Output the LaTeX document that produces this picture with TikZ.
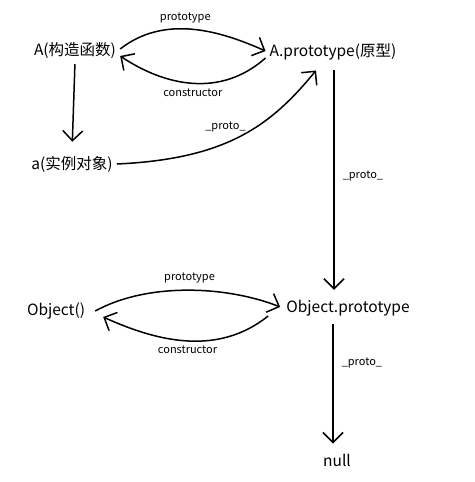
\documentclass[tikz,border=0pt]{standalone}
\usepackage{fontspec}
\setmainfont{Noto Sans CJK SC}
\usetikzlibrary{arrows.meta, positioning}
\tikzset{
  item/.style={inner sep=4pt, font=\fontsize{15.5}{17}\selectfont},
  tag/.style={inner sep=2pt, font=\fontsize{11}{12}\selectfont},
  arrow/.style={-{Straight Barb[length=10pt, width=20pt, line width=1.5pt]}, line width=1.5pt}
}
\begin{document}
\begin{tikzpicture}[x=1pt, y=-1pt]
  \useasboundingbox (0,0) rectangle (474,482);

  % Constructor and its prototype
  \node[item] (A) at (75,50) {A(构造函数)};
  \node[item] (Aproto) at (333,52) {A.prototype(原型)};
  \node[item] (a) at (72,164) {a(实例对象)};

  % Object level
  \node[item] (Obj) at (56,311) {Object()};
  \node[item] (Oproto) at (348,308) {Object.prototype};
  \node[item] (null) at (337,460) {null};

  % Connections
  \draw[arrow] ([yshift=1pt]A.east) .. controls +(45,-35) and +(-45,-20) .. ([yshift=1pt]Aproto.west)
    node[tag, pos=0.45, above=3pt] {prototype};
  \draw[arrow] ([yshift=-6pt]Aproto.west) .. controls +(-45,40) and +(45,30) .. ([yshift=-6pt]A.east)
    node[tag, pos=0.5, below=3pt] {constructor};
  \draw[arrow, shorten <=2pt, shorten >=10pt] (A.south) -- (a.north);
  \draw[arrow] (a.east) .. controls +(110,-5) and +(-45,55) .. ([xshift=-17pt, yshift=-6pt]Aproto.south)
    node[tag, pos=0.42, above=8pt] {\_proto\_};
  \draw[arrow, shorten <=6pt, shorten >=6pt] ([xshift=1pt]Aproto.south) -- ([xshift=1pt]Aproto.south |- Oproto.north)
    node[tag, pos=0.48, right=6pt] {\_proto\_};

  \draw[arrow] ([xshift=6pt]Obj.east) .. controls +(55,-30) and +(-50,-20) .. ([xshift=-2pt, yshift=1pt]Oproto.west)
    node[tag, pos=0.5, above=4pt] {prototype};
  \draw[arrow] ([xshift=-14pt, yshift=-8pt]Oproto.west) .. controls +(-50,40) and +(55,25) .. ([xshift=14pt, yshift=-6pt]Obj.east)
    node[tag, pos=0.5, below=2pt] {constructor};
  \draw[arrow, shorten <=4pt, shorten >=6pt] (Oproto.south -| Aproto.south) -- (null.north -| Aproto.south)
    node[tag, pos=0.33, right=6pt] {\_proto\_};
\end{tikzpicture}
\end{document}
